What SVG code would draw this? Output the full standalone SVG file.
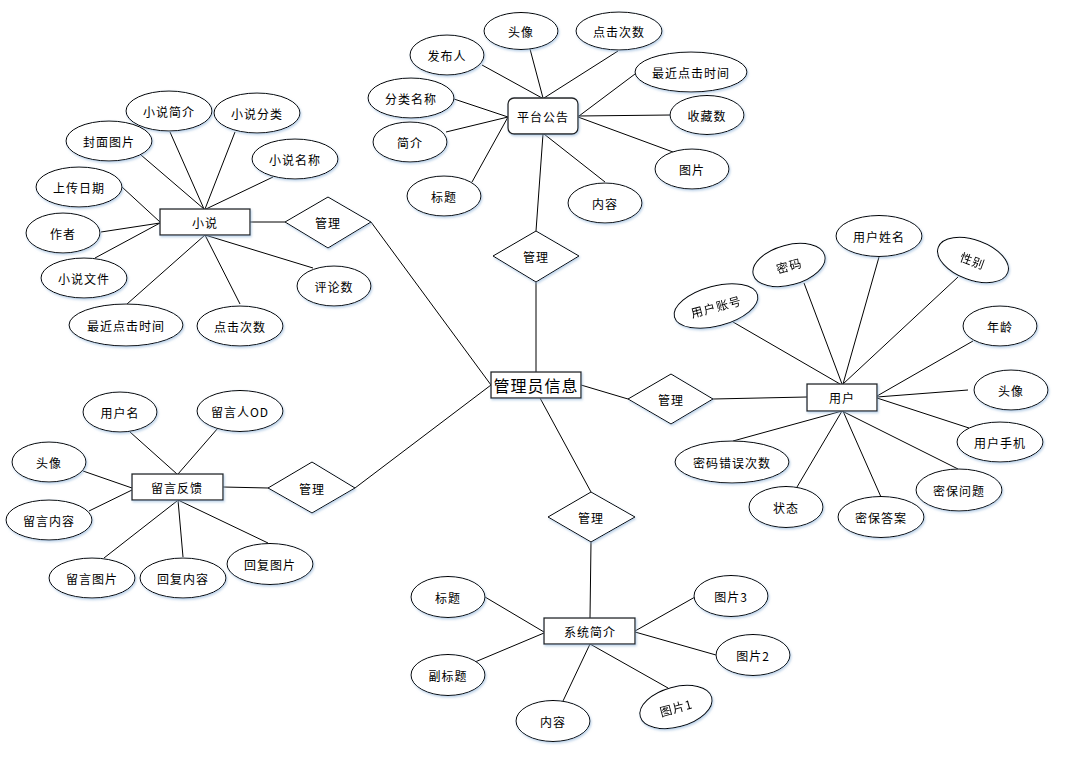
<svg xmlns="http://www.w3.org/2000/svg" width="1089" height="760" viewBox="0 0 1089 760">
<style>
.e{fill:#fff;stroke:#000;stroke-width:1}
.b{fill:#fff;stroke:#222;stroke-width:1.3}
.d{fill:#fff;stroke:#000;stroke-width:1}
.t{font-family:"Noto Sans CJK SC","Liberation Sans",sans-serif;font-size:12px;fill:#000;text-anchor:middle;dominant-baseline:central;letter-spacing:1px}
.big{font-size:16px}
.c line{stroke:#000;stroke-width:1}
</style>
<defs>
<filter id="sh" x="-20%" y="-20%" width="140%" height="150%">
<feDropShadow dx="1" dy="1.5" stdDeviation="1.2" flood-color="#8fb3d9" flood-opacity="0.6"/>
</filter>
</defs>
<rect width="1089" height="760" fill="#fff"/>
<g class="c" id="connectors">
<line x1="530" y1="49" x2="543" y2="98"/>
<line x1="618" y1="51" x2="544" y2="98"/>
<line x1="482" y1="65" x2="542" y2="98"/>
<line x1="635" y1="74" x2="579" y2="116"/>
<line x1="454" y1="99" x2="508" y2="117"/>
<line x1="671" y1="115" x2="578" y2="116"/>
<line x1="446" y1="132" x2="508" y2="117"/>
<line x1="673" y1="152" x2="578" y2="117"/>
<line x1="472" y1="182" x2="508" y2="117"/>
<line x1="605" y1="182" x2="544" y2="134"/>
<line x1="543" y1="134" x2="536" y2="231"/>
<line x1="536" y1="282" x2="536" y2="372"/>
<line x1="581" y1="385" x2="628" y2="399"/>
<line x1="713" y1="399" x2="807" y2="397"/>
<line x1="371" y1="222" x2="491" y2="385"/>
<line x1="355" y1="488" x2="491" y2="385"/>
<line x1="540" y1="398" x2="591" y2="492"/>
<line x1="591" y1="542" x2="590" y2="618"/>
<line x1="250" y1="222" x2="285" y2="222"/>
<line x1="170" y1="132" x2="204" y2="209"/>
<line x1="235" y1="132" x2="205" y2="209"/>
<line x1="141" y1="155" x2="204" y2="209"/>
<line x1="273" y1="177" x2="206" y2="209"/>
<line x1="122" y1="187" x2="160" y2="222"/>
<line x1="101" y1="232" x2="160" y2="223"/>
<line x1="95" y1="258" x2="160" y2="223"/>
<line x1="127" y1="304" x2="205" y2="235"/>
<line x1="240" y1="304" x2="205" y2="235"/>
<line x1="313" y1="268" x2="205" y2="235"/>
<line x1="733" y1="322" x2="840" y2="384"/>
<line x1="804" y1="283" x2="842" y2="384"/>
<line x1="879" y1="257" x2="843" y2="384"/>
<line x1="958" y1="277" x2="843" y2="384"/>
<line x1="973" y1="341" x2="877" y2="396"/>
<line x1="968" y1="390" x2="877" y2="397"/>
<line x1="969" y1="428" x2="877" y2="398"/>
<line x1="958" y1="469" x2="842" y2="411"/>
<line x1="881" y1="497" x2="843" y2="411"/>
<line x1="797" y1="487" x2="842" y2="411"/>
<line x1="733" y1="441" x2="842" y2="411"/>
<line x1="223" y1="487" x2="268" y2="488"/>
<line x1="130" y1="432" x2="177" y2="474"/>
<line x1="218" y1="428" x2="178" y2="474"/>
<line x1="83" y1="471" x2="132" y2="488"/>
<line x1="89" y1="511" x2="132" y2="490"/>
<line x1="104" y1="558" x2="177" y2="501"/>
<line x1="183" y1="557" x2="178" y2="500"/>
<line x1="268" y1="543" x2="178" y2="500"/>
<line x1="485" y1="597" x2="544" y2="632"/>
<line x1="475" y1="662" x2="544" y2="633"/>
<line x1="563" y1="701" x2="590" y2="644"/>
<line x1="668" y1="688" x2="590" y2="644"/>
<line x1="716" y1="655" x2="635" y2="632"/>
<line x1="695" y1="597" x2="635" y2="631"/>
</g>

<g id="admin"><rect class="b" filter="url(#sh)" x="491" y="372" width="90" height="26"/><text class="t big" x="536" y="385">管理员信息</text></g>
<g id="rel-platform"><polygon class="d" filter="url(#sh)" points="536,231 579,256 536,282 493,256"/><text class="t" x="536" y="256">管理</text></g>
<g id="rel-user"><polygon class="d" filter="url(#sh)" points="671,374 713,399 671,424 628,399"/><text class="t" x="671" y="399">管理</text></g>
<g id="rel-novel"><polygon class="d" filter="url(#sh)" points="328,197 371,222 328,248 285,222"/><text class="t" x="328" y="222">管理</text></g>
<g id="rel-feedback"><polygon class="d" filter="url(#sh)" points="312,462 355,488 312,513 268,488"/><text class="t" x="312" y="488">管理</text></g>
<g id="rel-system"><polygon class="d" filter="url(#sh)" points="591,492 635,517 591,542 548,517"/><text class="t" x="591" y="517">管理</text></g>

<g id="platform"><rect class="b" filter="url(#sh)" x="508" y="98" width="70" height="36" rx="6"/><text class="t" x="543" y="116">平台公告</text></g>
<g id="p-touxiang"><ellipse class="e" filter="url(#sh)" cx="521" cy="31" rx="37" ry="18.5"/><text class="t" x="521" y="31">头像</text></g>
<g id="p-djcs"><ellipse class="e" filter="url(#sh)" cx="619" cy="31" rx="43" ry="19"/><text class="t" x="619" y="31">点击次数</text></g>
<g id="p-fbr"><ellipse class="e" filter="url(#sh)" cx="447" cy="55" rx="37" ry="20"/><text class="t" x="447" y="55">发布人</text></g>
<g id="p-zjdjsj"><ellipse class="e" filter="url(#sh)" cx="691" cy="72" rx="56" ry="20"/><text class="t" x="691" y="72">最近点击时间</text></g>
<g id="p-flmc"><ellipse class="e" filter="url(#sh)" cx="411" cy="98" rx="43" ry="20"/><text class="t" x="411" y="98">分类名称</text></g>
<g id="p-scs"><ellipse class="e" filter="url(#sh)" cx="707" cy="115" rx="37" ry="19.5"/><text class="t" x="707" y="115">收藏数</text></g>
<g id="p-jj"><ellipse class="e" filter="url(#sh)" cx="410" cy="142" rx="37" ry="20"/><text class="t" x="410" y="142">简介</text></g>
<g id="p-tp"><ellipse class="e" filter="url(#sh)" cx="692" cy="169" rx="37" ry="20"/><text class="t" x="692" y="169">图片</text></g>
<g id="p-bt"><ellipse class="e" filter="url(#sh)" cx="444" cy="196" rx="37" ry="20"/><text class="t" x="444" y="196">标题</text></g>
<g id="p-nr"><ellipse class="e" filter="url(#sh)" cx="605" cy="203" rx="37" ry="20"/><text class="t" x="605" y="203">内容</text></g>

<g id="novel"><rect class="b" filter="url(#sh)" x="160" y="209" width="90" height="26"/><text class="t" x="205" y="222">小说</text></g>
<g id="n-jj"><ellipse class="e" filter="url(#sh)" cx="169" cy="111" rx="43" ry="20"/><text class="t" x="169" y="111">小说简介</text></g>
<g id="n-fl"><ellipse class="e" filter="url(#sh)" cx="257" cy="113" rx="43" ry="20"/><text class="t" x="257" y="113">小说分类</text></g>
<g id="n-fm"><ellipse class="e" filter="url(#sh)" cx="109" cy="141" rx="43" ry="20"/><text class="t" x="109" y="141">封面图片</text></g>
<g id="n-mc"><ellipse class="e" filter="url(#sh)" cx="295" cy="159" rx="43" ry="20"/><text class="t" x="295" y="159">小说名称</text></g>
<g id="n-sc"><ellipse class="e" filter="url(#sh)" cx="79" cy="187" rx="43" ry="20"/><text class="t" x="79" y="187">上传日期</text></g>
<g id="n-zz"><ellipse class="e" filter="url(#sh)" cx="63" cy="233" rx="37" ry="20"/><text class="t" x="63" y="233">作者</text></g>
<g id="n-wj"><ellipse class="e" filter="url(#sh)" cx="84" cy="278" rx="43" ry="20"/><text class="t" x="84" y="278">小说文件</text></g>
<g id="n-zj"><ellipse class="e" filter="url(#sh)" cx="126" cy="325" rx="57" ry="21"/><text class="t" x="126" y="325">最近点击时间</text></g>
<g id="n-dj"><ellipse class="e" filter="url(#sh)" cx="240" cy="326" rx="43" ry="20"/><text class="t" x="240" y="326">点击次数</text></g>
<g id="n-pl"><ellipse class="e" filter="url(#sh)" cx="334" cy="286" rx="37" ry="20"/><text class="t" x="334" y="286">评论数</text></g>

<g id="user"><rect class="b" filter="url(#sh)" x="807" y="384" width="70" height="27"/><text class="t" x="842" y="397">用户</text></g>
<g id="u-zh" filter="url(#sh)"><g transform="rotate(-15 716 306)"><ellipse class="e" cx="716" cy="306" rx="43" ry="20"/><text class="t" x="716" y="306">用户账号</text></g></g>
<g id="u-mm" filter="url(#sh)"><g transform="rotate(-15 789 265)"><ellipse class="e" cx="789" cy="265" rx="37" ry="20"/><text class="t" x="789" y="265">密码</text></g></g>
<g id="u-xm"><ellipse class="e" filter="url(#sh)" cx="879" cy="236" rx="43" ry="20.5"/><text class="t" x="879" y="236">用户姓名</text></g>
<g id="u-xb" filter="url(#sh)"><g transform="rotate(20 973 260)"><ellipse class="e" cx="973" cy="260" rx="37" ry="20"/><text class="t" x="973" y="260">性别</text></g></g>
<g id="u-nl"><ellipse class="e" filter="url(#sh)" cx="1000" cy="326" rx="37" ry="20"/><text class="t" x="1000" y="326">年龄</text></g>
<g id="u-tx"><ellipse class="e" filter="url(#sh)" cx="1011" cy="390" rx="37" ry="20"/><text class="t" x="1011" y="390">头像</text></g>
<g id="u-sj"><ellipse class="e" filter="url(#sh)" cx="1000" cy="442" rx="43" ry="20"/><text class="t" x="1000" y="442">用户手机</text></g>
<g id="u-mbwt"><ellipse class="e" filter="url(#sh)" cx="959" cy="490" rx="43" ry="21"/><text class="t" x="959" y="490">密保问题</text></g>
<g id="u-mbda"><ellipse class="e" filter="url(#sh)" cx="881" cy="517" rx="43" ry="20.5"/><text class="t" x="881" y="517">密保答案</text></g>
<g id="u-zt"><ellipse class="e" filter="url(#sh)" cx="786" cy="507" rx="37" ry="20.5"/><text class="t" x="786" y="507">状态</text></g>
<g id="u-cw"><ellipse class="e" filter="url(#sh)" cx="732" cy="462" rx="57" ry="21"/><text class="t" x="732" y="462">密码错误次数</text></g>

<g id="feedback"><rect class="b" filter="url(#sh)" x="132" y="474" width="91" height="26"/><text class="t" x="177" y="487">留言反馈</text></g>
<g id="f-yhm"><ellipse class="e" filter="url(#sh)" cx="120" cy="412" rx="37" ry="20"/><text class="t" x="120" y="412">用户名</text></g>
<g id="f-lyr"><ellipse class="e" filter="url(#sh)" cx="240" cy="411" rx="43" ry="20.5"/><text class="t" x="240" y="411">留言人OD</text></g>
<g id="f-tx"><ellipse class="e" filter="url(#sh)" cx="49" cy="462" rx="37" ry="20"/><text class="t" x="49" y="462">头像</text></g>
<g id="f-lynr"><ellipse class="e" filter="url(#sh)" cx="49" cy="520" rx="43" ry="20"/><text class="t" x="49" y="520">留言内容</text></g>
<g id="f-lytp"><ellipse class="e" filter="url(#sh)" cx="92" cy="578" rx="43" ry="20"/><text class="t" x="92" y="578">留言图片</text></g>
<g id="f-hfnr"><ellipse class="e" filter="url(#sh)" cx="183" cy="578" rx="43" ry="20"/><text class="t" x="183" y="578">回复内容</text></g>
<g id="f-hftp"><ellipse class="e" filter="url(#sh)" cx="270" cy="564" rx="43" ry="20.5"/><text class="t" x="270" y="564">回复图片</text></g>

<g id="system"><rect class="b" filter="url(#sh)" x="544" y="618" width="91" height="26"/><text class="t" x="590" y="631">系统简介</text></g>
<g id="s-bt"><ellipse class="e" filter="url(#sh)" cx="448" cy="597" rx="37" ry="20.5"/><text class="t" x="448" y="597">标题</text></g>
<g id="s-fbt"><ellipse class="e" filter="url(#sh)" cx="448" cy="675" rx="37" ry="20.5"/><text class="t" x="448" y="675">副标题</text></g>
<g id="s-nr"><ellipse class="e" filter="url(#sh)" cx="553" cy="721" rx="37" ry="20.5"/><text class="t" x="553" y="721">内容</text></g>
<g id="s-tp1" filter="url(#sh)"><g transform="rotate(-15 676 707)"><ellipse class="e" cx="676" cy="707" rx="37" ry="20"/><text class="t" x="676" y="707">图片1</text></g></g>
<g id="s-tp2"><ellipse class="e" filter="url(#sh)" cx="753" cy="655" rx="37" ry="20.5"/><text class="t" x="753" y="655">图片2</text></g>
<g id="s-tp3"><ellipse class="e" filter="url(#sh)" cx="731" cy="596" rx="37" ry="20.5"/><text class="t" x="731" y="596">图片3</text></g>
</svg>
